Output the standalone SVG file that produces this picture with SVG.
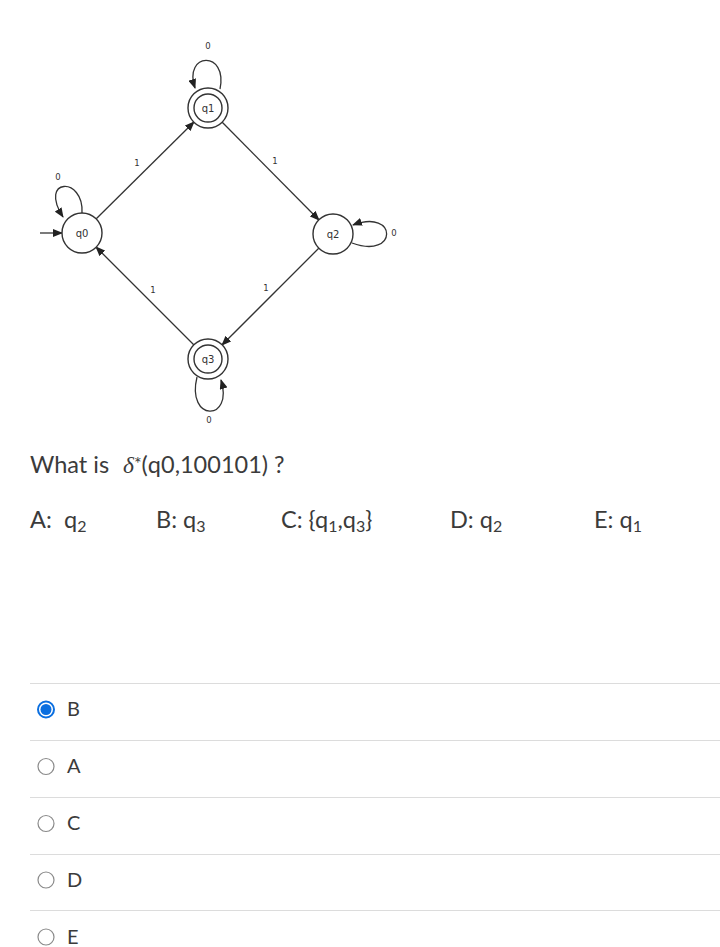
<svg xmlns="http://www.w3.org/2000/svg" width="720" height="947" viewBox="0 0 720 947">
<style>
.st{fill:#fff;stroke:#333;stroke-width:1.4}
.sl{font-family:"DejaVu Sans",sans-serif;font-size:10px;fill:#333;text-anchor:middle}
.el{font-family:"DejaVu Sans",sans-serif;font-size:8.5px;fill:#333;text-anchor:middle}
.ed{fill:none;stroke:#333;stroke-width:1.3;marker-end:url(#ah)}
.tx{font-family:Lato,"Liberation Sans",sans-serif;fill:#3b3b3b}
.q{font-size:23.5px}
.sub{font-size:16px}
.rl{stroke:#dcdcdc;stroke-width:1}
.rd{fill:#fff;stroke:#8a8a8a;stroke-width:1.2}
.ol{font-family:Lato,"Liberation Sans",sans-serif;font-size:20px;fill:#3b3b3b}
</style>
<defs>
<marker id="ah" markerUnits="userSpaceOnUse" markerWidth="10" markerHeight="8" refX="9" refY="4" orient="auto">
<path d="M0,0 L10,4 L0,8 Z" fill="#222"/>
</marker>
</defs>
<rect width="720" height="947" fill="#fff"/>
<g id="connectors">
<path class="ed" d="M40,233 L62,233"/>
<path class="ed" d="M96,219 L194,122"/>
<path class="ed" d="M222,122 L319,220"/>
<path class="ed" d="M319,248 L222,345"/>
<path class="ed" d="M194,345 L96,247"/>
<path class="ed" d="M82,213 C84,176 38,178 63,217"/>
<path class="ed" d="M220,89 C228,50 183,52 195,88"/>
<path class="ed" d="M352,243 C398,260 398,208 353,225"/>
<path class="ed" d="M197,377 C186,422 234,422 221,380"/>
<text class="el" x="137" y="166">1</text>
<text class="el" x="275" y="164">1</text>
<text class="el" x="266" y="291">1</text>
<text class="el" x="153" y="293">1</text>
<text class="el" x="58" y="180">0</text>
<text class="el" x="208" y="49">0</text>
<text class="el" x="394" y="236">0</text>
<text class="el" x="209" y="423">0</text>
</g>
<g id="q0"><circle class="st" cx="82" cy="233" r="20"/><text class="sl" x="82" y="236.5">q0</text></g>
<g id="q1"><circle class="st" cx="208" cy="108" r="20"/><circle class="st" cx="208" cy="108" r="14"/><text class="sl" x="208" y="111.5">q1</text></g>
<g id="q2"><circle class="st" cx="333" cy="234" r="20"/><text class="sl" x="333" y="237.5">q2</text></g>
<g id="q3"><circle class="st" cx="208" cy="359" r="20"/><circle class="st" cx="208" cy="359" r="14"/><text class="sl" x="208" y="362.5">q3</text></g>
<g id="question">
<text class="tx q" x="30" y="473">What is</text>
<text class="tx q" x="123" y="473"><tspan font-family="'Liberation Serif',serif" font-style="italic">δ</tspan><tspan font-size="18" dy="-3">*</tspan><tspan dy="3">(q0,100101) ?</tspan></text>
<text class="tx q" x="30" y="528">A:</text>
<text class="tx q" x="64" y="528">q<tspan class="sub" dy="4">2</tspan></text>
<text class="tx q" x="156" y="528">B: q<tspan class="sub" dy="4">3</tspan></text>
<text class="tx q" x="281" y="528">C: {q<tspan class="sub" dy="4">1</tspan><tspan dy="-4">,q</tspan><tspan class="sub" dy="4">3</tspan><tspan dy="-4">}</tspan></text>
<text class="tx q" x="450" y="528">D: q<tspan class="sub" dy="4">2</tspan></text>
<text class="tx q" x="594" y="528">E: q<tspan class="sub" dy="4">1</tspan></text>
</g>
<g id="options">
<line class="rl" x1="30" y1="683.5" x2="720" y2="683.5"/>
<line class="rl" x1="30" y1="740.5" x2="720" y2="740.5"/>
<line class="rl" x1="30" y1="797.5" x2="720" y2="797.5"/>
<line class="rl" x1="30" y1="854.5" x2="720" y2="854.5"/>
<line class="rl" x1="30" y1="910.5" x2="720" y2="910.5"/>
<circle cx="46" cy="709.5" r="8" fill="#fff" stroke="#0b6fe0" stroke-width="2"/>
<circle cx="46" cy="709.5" r="5.5" fill="#0b6fe0"/>
<text class="ol" x="67" y="716">B</text>
<circle class="rd" cx="46" cy="766.5" r="8"/>
<text class="ol" x="67" y="773">A</text>
<circle class="rd" cx="46" cy="823.5" r="8"/>
<text class="ol" x="67" y="830">C</text>
<circle class="rd" cx="46" cy="880" r="8"/>
<text class="ol" x="67" y="887">D</text>
<circle class="rd" cx="46" cy="937" r="8"/>
<text class="ol" x="67" y="944">E</text>
</g>
</svg>
